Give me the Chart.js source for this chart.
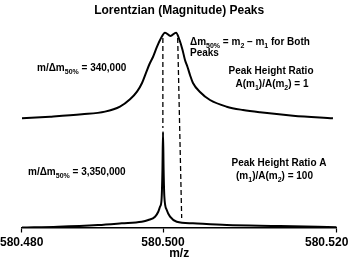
<!DOCTYPE html>
<html><head><meta charset="utf-8">
<script src="https://cdn.jsdelivr.net/npm/chart.js@4/dist/chart.umd.min.js"></script>
<style>html,body{margin:0;padding:0;background:#fff}</style>
</head><body>
<canvas id="c" width="350" height="258"></canvas>
<script>
// ---------- data ----------
const chartTitle = 'Lorentzian (Magnitude) Peaks';
const xAxisTitle = 'm/z';
const tickValues = [580.480, 580.500, 580.520];
const tickLabels = ['580.480', '580.500', '580.520'];

// upper trace: m/Δm50% = 340,000 (two peaks, equal height), offset trace
const upperMz = [580.48004, 580.48401, 580.48853, 580.49179, 580.49391, 580.49533, 580.49632, 580.49703,
  580.49759, 580.49809, 580.49858, 580.49908, 580.49958, 580.50023, 580.50086, 580.50150, 580.50190,
  580.50225, 580.50253, 580.50282, 580.50311, 580.50345, 580.50426, 580.50541, 580.50733, 580.50921,
  580.51117, 580.51497, 580.51957];
const upperIntensity = [114.3, 116.0, 118.5, 121.3, 126.5, 134.2, 142.2, 151.3,
  161.8, 171.2, 178.5, 188.0, 196.3, 204.0, 200.5, 204.0, 196.3,
  185.9, 175.4, 168.1, 159.7, 151.3, 141.9, 133.5, 126.5, 123.0,
  120.6, 117.1, 114.3];

// lower trace: m/Δm50% = 3,350,000
const lowerMz = [580.48004, 580.48514, 580.49080, 580.49415, 580.49698, 580.49792, 580.49887, 580.49933,
  580.49958, 580.49979, 580.49992, 580.50000, 580.50007, 580.50015, 580.50043, 580.50081, 580.50158,
  580.50345, 580.50733, 580.51347, 580.52000];
const lowerIntensity = [0, 0.8, 2.6, 4.4, 6.1, 7.9, 11.3, 16.5,
  21.8, 28.8, 60.2, 100, 60.2, 33.0, 18.3, 11.3, 6.1,
  4.4, 2.6, 1.6, 0.2];

// dashed markers for m1 and m2
const m1LineMz = [580.49998, 580.49998];
const m1LineIntensity = [198.4, 104.2];
const m2LineMz = [580.50169, 580.50215];
const m2LineIntensity = [198.4, 9.9];

// annotation texts (_{...} = subscript)
const annotationTexts = [
  'm/Δm_{50%} = 340,000',
  'Δm_{50%} = m_{2} – m_{1} for Both',
  'Peaks',
  'Peak Height Ratio',
  'A(m_{1})/A(m_{2}) = 1',
  'm/Δm_{50%} = 3,350,000',
  'Peak Height Ratio A',
  '(m_{1})/A(m_{2}) = 100'
];

// ---------- helpers ----------
const toPoints = (xs, ys) => xs.map((x, i) => ({x: x, y: ys[i]}));
const FONT = '"Liberation Sans", Arial, sans-serif';
const AXIS_FRACTIONS = [0, 0.4486, 1];

class PiecewiseScale extends Chart.LinearScale {
  getPixelForValue(value) {
    if (value === null || value === undefined || isNaN(value)) return NaN;
    const v = tickValues, f = AXIS_FRACTIONS;
    const i = value > v[1] ? 1 : 0;
    const d = f[i] + (value - v[i]) / (v[i + 1] - v[i]) * (f[i + 1] - f[i]);
    return this.getPixelForDecimal(d);
  }
  getValueForPixel(pixel) {
    const d = this.getDecimalForPixel(pixel);
    const v = tickValues, f = AXIS_FRACTIONS;
    const i = d > f[1] ? 1 : 0;
    return v[i] + (d - f[i]) / (f[i + 1] - f[i]) * (v[i + 1] - v[i]);
  }
  _computeLabelItems(chartArea) {
    const items = super._computeLabelItems(chartArea);
    if (items.length) {
      const o = items[items.length - 1].options;
      o.translation = [o.translation[0] - 10, o.translation[1]];
    }
    return items;
  }
}
PiecewiseScale.id = 'piecewise';
PiecewiseScale.defaults = Chart.LinearScale.defaults;
Chart.register(PiecewiseScale);

const annotationPositions = [
  {x: 37, y: 71, align: 'left'},
  {x: 190, y: 45, align: 'left'},
  {x: 190, y: 56, align: 'left'},
  {x: 271, y: 74, align: 'center'},
  {x: 272, y: 87, align: 'center'},
  {x: 28, y: 175, align: 'left'},
  {x: 279, y: 166, align: 'center'},
  {x: 274.5, y: 179, align: 'center'}
];

function parseRich(s) {
  const parts = [];
  const re = /_\{([^}]*)\}/g;
  let last = 0, m;
  while ((m = re.exec(s))) {
    if (m.index > last) parts.push({t: s.slice(last, m.index), sub: false});
    parts.push({t: m[1], sub: true});
    last = re.lastIndex;
  }
  if (last < s.length) parts.push({t: s.slice(last), sub: false});
  return parts;
}

const annotationPlugin = {
  id: 'annotations',
  afterDatasetsDraw(chart) {
    const ctx = chart.ctx;
    ctx.save();
    ctx.fillStyle = '#000';
    ctx.textBaseline = 'alphabetic';
    ctx.textAlign = 'left';
    const mainF = 'bold 10px ' + FONT, subF = 'bold 7px ' + FONT;
    annotationTexts.forEach((txt, k) => {
      const pos = annotationPositions[k];
      const parts = parseRich(txt);
      let w = 0;
      parts.forEach(p => { ctx.font = p.sub ? subF : mainF; p.w = ctx.measureText(p.t).width; w += p.w; });
      let x = pos.align === 'center' ? pos.x - w / 2 : pos.x;
      parts.forEach(p => {
        ctx.font = p.sub ? subF : mainF;
        ctx.fillText(p.t, x, pos.y + (p.sub ? 2.5 : 0));
        x += p.w;
      });
    });
    ctx.restore();
  }
};

new Chart(document.getElementById('c'), {
  type: 'line',
  data: {
    datasets: [
      {data: toPoints(upperMz, upperIntensity), borderColor: '#000', borderWidth: 2, pointRadius: 0, cubicInterpolationMode: 'monotone', fill: false},
      {data: toPoints(lowerMz, lowerIntensity), borderColor: '#000', borderWidth: 2, pointRadius: 0, cubicInterpolationMode: 'monotone', fill: false},
      {data: toPoints(m1LineMz, m1LineIntensity), borderColor: '#000', borderWidth: 1.3, borderDash: [5, 3], pointRadius: 0, fill: false},
      {data: toPoints(m2LineMz, m2LineIntensity), borderColor: '#000', borderWidth: 1.3, borderDash: [5, 3], pointRadius: 0, fill: false}
    ]
  },
  options: {
    responsive: false,
    animation: false,
    devicePixelRatio: 1,
    layout: {padding: {left: 21.7, right: 13.3, top: 0, bottom: 0}},
    plugins: {
      legend: {display: false},
      tooltip: {enabled: false},
      title: {display: true, text: chartTitle, color: '#000', font: {family: FONT, size: 12, weight: 'bold'}, padding: {top: 3, bottom: 6}}
    },
    scales: {
      x: {
        type: 'piecewise',
        min: tickValues[0],
        max: tickValues[tickValues.length - 1],
        afterBuildTicks: (scale) => { scale.ticks = tickValues.map(v => ({value: v})); },
        afterFit: (scale) => { scale.paddingLeft = 0; scale.paddingRight = 0; scale.height = 30.5; },
        grid: {drawOnChartArea: false, drawTicks: true, tickLength: 5, color: '#000', tickWidth: 1.2},
        border: {display: true, color: '#000', width: 1.5},
        ticks: {
          autoSkip: false, maxRotation: 0, padding: 3, color: '#000',
          font: {family: FONT, size: 12, weight: 'bold'},
          callback: (v, i) => tickLabels[i]
        },
        title: {display: true, text: xAxisTitle, color: '#000', font: {family: FONT, size: 12, weight: 'bold'}, padding: {top: 0, bottom: -2.7}}
      },
      y: {display: false, min: 0, max: 213.7}
    }
  },
  plugins: [annotationPlugin]
});
</script>
</body></html>
